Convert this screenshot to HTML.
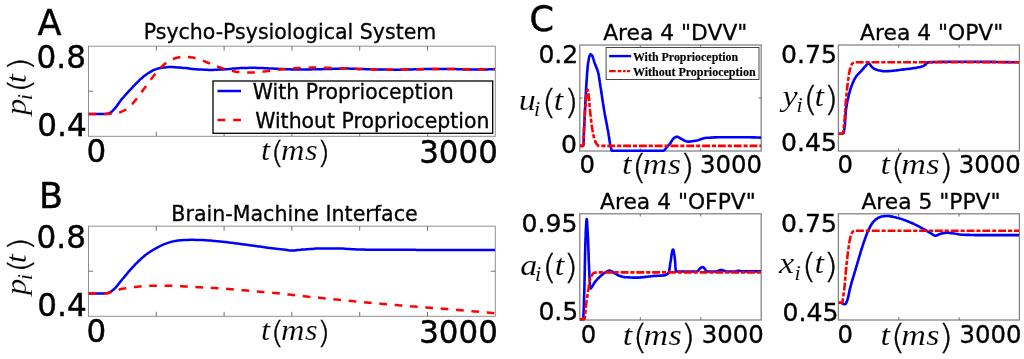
<!DOCTYPE html>
<html><head><meta charset="utf-8"><title>Figure</title>
<style>html,body{margin:0;padding:0;background:#fff}svg{display:block}text{fill:#000}</style>
</head><body>
<svg width="1024" height="359" viewBox="0 0 1024 359">
<rect width="1024" height="359" fill="#fff"/>
<rect x="88.5" y="46.2" width="406.8" height="90.1" fill="#fff" stroke="#909090" stroke-width="1.0"/>
<path d="M156.3,136.3v-4.5M156.3,46.2v4.5M224.1,136.3v-4.5M224.1,46.2v4.5M291.9,136.3v-4.5M291.9,46.2v4.5M359.7,136.3v-4.5M359.7,46.2v4.5M427.5,136.3v-4.5M427.5,46.2v4.5M88.5,91.2h4.5" stroke="#505050" stroke-width="0.8" fill="none"/>
<clipPath id="cA"><rect x="88.5" y="46.2" width="406.8" height="90.1"/></clipPath>
<g clip-path="url(#cA)" fill="none" stroke-width="2.5" stroke-linejoin="round">
<path d="M88.5,113.9 L90.0,113.9 L91.5,113.9 L93.1,113.9 L94.6,113.9 L96.1,113.9 L97.6,113.9 L99.1,113.9 L100.6,113.9 L102.1,113.9 L103.6,113.9 L105.1,113.9 L106.6,113.8 L108.1,113.5 L109.5,113.1 L110.8,112.5 L112.0,111.5 L113.1,110.3 L114.1,109.2 L115.1,108.1 L116.1,106.9 L117.0,105.7 L117.8,104.5 L118.7,103.2 L119.6,102.0 L120.5,100.8 L121.4,99.6 L122.4,98.4 L123.4,97.3 L124.4,96.1 L125.4,95.0 L126.4,93.9 L127.4,92.8 L128.4,91.7 L129.4,90.6 L130.5,89.5 L131.5,88.4 L132.5,87.3 L133.5,86.2 L134.6,85.1 L135.6,84.0 L136.7,82.9 L137.8,81.8 L138.8,80.8 L139.9,79.7 L141.0,78.7 L142.2,77.7 L143.3,76.8 L144.5,75.8 L145.7,74.9 L146.9,74.0 L148.2,73.2 L149.5,72.4 L150.8,71.6 L152.1,70.9 L153.4,70.2 L154.8,69.6 L156.2,69.1 L157.7,68.6 L159.1,68.2 L160.6,67.9 L162.1,67.7 L163.6,67.5 L165.1,67.4 L166.6,67.2 L168.1,67.1 L169.6,67.1 L171.1,67.1 L172.6,67.1 L174.1,67.2 L175.6,67.3 L177.1,67.4 L178.6,67.5 L180.1,67.6 L181.6,67.7 L183.2,67.9 L184.7,68.0 L186.2,68.1 L187.7,68.3 L189.1,68.5 L190.6,68.7 L192.1,68.9 L193.6,69.0 L195.1,69.2 L196.6,69.3 L198.1,69.4 L199.7,69.5 L201.2,69.6 L202.7,69.6 L204.2,69.7 L205.7,69.8 L207.2,69.8 L208.7,69.9 L210.2,69.9 L211.7,69.9 L213.2,69.9 L214.7,69.8 L216.2,69.8 L217.7,69.7 L219.2,69.6 L220.7,69.6 L222.3,69.5 L223.8,69.4 L225.3,69.3 L226.8,69.2 L228.3,69.1 L229.8,68.9 L231.3,68.8 L232.8,68.6 L234.3,68.5 L235.8,68.4 L237.3,68.3 L238.8,68.2 L240.3,68.1 L241.8,68.1 L243.3,68.0 L244.8,68.0 L246.3,67.9 L247.8,67.9 L249.3,67.8 L250.8,67.8 L252.3,67.8 L253.9,67.8 L255.4,67.8 L256.9,67.9 L258.4,67.9 L259.9,68.0 L261.4,68.0 L262.9,68.1 L264.4,68.2 L265.9,68.2 L267.4,68.3 L268.9,68.4 L270.4,68.4 L271.9,68.5 L273.4,68.6 L274.9,68.7 L276.5,68.8 L278.0,68.8 L279.5,68.9 L281.0,69.0 L282.5,69.1 L284.0,69.1 L285.5,69.2 L287.0,69.2 L288.5,69.3 L290.0,69.3 L291.5,69.4 L293.0,69.4 L294.5,69.4 L296.0,69.5 L297.5,69.5 L299.1,69.5 L300.6,69.5 L302.1,69.5 L303.6,69.5 L305.1,69.5 L306.6,69.5 L308.1,69.4 L309.6,69.4 L311.1,69.4 L312.6,69.3 L314.1,69.3 L315.6,69.3 L317.1,69.3 L318.6,69.2 L320.2,69.2 L321.7,69.2 L323.2,69.1 L324.7,69.1 L326.2,69.0 L327.7,69.0 L329.2,68.9 L330.7,68.9 L332.2,68.9 L333.7,68.8 L335.2,68.8 L336.7,68.7 L338.2,68.7 L339.7,68.7 L341.3,68.6 L342.8,68.6 L344.3,68.6 L345.8,68.6 L347.3,68.6 L348.8,68.6 L350.3,68.7 L351.8,68.7 L353.3,68.7 L354.8,68.8 L356.3,68.8 L357.8,68.9 L359.3,69.0 L360.8,69.0 L362.4,69.1 L363.9,69.1 L365.4,69.2 L366.9,69.2 L368.4,69.3 L369.9,69.3 L371.4,69.3 L372.9,69.4 L374.4,69.4 L375.9,69.4 L377.4,69.5 L378.9,69.5 L380.4,69.5 L381.9,69.6 L383.5,69.6 L385.0,69.6 L386.5,69.6 L388.0,69.7 L389.5,69.7 L391.0,69.7 L392.5,69.7 L394.0,69.7 L395.5,69.7 L397.0,69.7 L398.5,69.7 L400.0,69.7 L401.5,69.6 L403.1,69.6 L404.6,69.6 L406.1,69.5 L407.6,69.5 L409.1,69.5 L410.6,69.4 L412.1,69.4 L413.6,69.3 L415.1,69.3 L416.6,69.3 L418.1,69.2 L419.6,69.2 L421.1,69.2 L422.6,69.2 L424.2,69.1 L425.7,69.1 L427.2,69.1 L428.7,69.1 L430.2,69.0 L431.7,69.0 L433.2,69.0 L434.7,69.0 L436.2,69.0 L437.7,68.9 L439.2,68.9 L440.7,68.9 L442.2,68.9 L443.8,68.9 L445.3,68.9 L446.8,68.9 L448.3,68.9 L449.8,69.0 L451.3,69.0 L452.8,69.0 L454.3,69.1 L455.8,69.1 L457.3,69.2 L458.8,69.2 L460.3,69.3 L461.8,69.3 L463.3,69.4 L464.9,69.4 L466.4,69.5 L467.9,69.5 L469.4,69.5 L470.9,69.5 L472.4,69.5 L473.9,69.5 L475.4,69.5 L476.9,69.5 L478.4,69.5 L479.9,69.5 L481.4,69.5 L482.9,69.4 L484.4,69.4 L486.0,69.4 L487.5,69.4 L489.0,69.3 L490.5,69.3 L492.0,69.3 L493.5,69.2 L495.0,69.2" stroke="#0000ff"/>
<path d="M88.5,113.9 L90.0,113.9 L91.5,113.9 L93.0,113.9 L94.5,113.9 L96.0,113.9 L97.6,113.9 L99.1,113.9 L100.6,113.9 L102.1,113.9 L103.6,113.9 L105.1,113.9 L106.6,113.9 L108.1,113.9 L109.6,113.8 L111.1,113.7 L112.6,113.6 L114.1,113.4 L115.6,113.2 L117.1,112.9 L118.6,112.6 L120.1,112.2 L121.5,111.7 L122.8,111.2 L124.1,110.5 L125.4,109.7 L126.7,108.8 L127.9,107.9 L129.1,106.8 L130.2,105.8 L131.3,104.8 L132.4,103.8 L133.4,102.7 L134.4,101.5 L135.3,100.4 L136.2,99.2 L137.2,97.9 L138.1,96.7 L139.0,95.5 L139.9,94.3 L140.8,93.1 L141.7,91.9 L142.6,90.7 L143.5,89.5 L144.4,88.3 L145.3,87.1 L146.2,85.8 L147.1,84.6 L148.0,83.4 L148.9,82.2 L149.8,81.0 L150.7,79.8 L151.6,78.6 L152.5,77.4 L153.4,76.1 L154.4,75.0 L155.3,73.8 L156.2,72.6 L157.2,71.5 L158.2,70.4 L159.2,69.3 L160.3,68.2 L161.4,67.1 L162.5,66.0 L163.6,65.0 L164.7,64.0 L165.9,63.1 L167.1,62.3 L168.4,61.5 L169.7,60.6 L171.1,59.9 L172.4,59.2 L173.8,58.7 L175.2,58.3 L176.7,57.9 L178.1,57.5 L179.6,57.2 L181.2,57.0 L182.7,56.8 L184.2,56.7 L185.7,56.7 L187.2,56.8 L188.7,57.0 L190.2,57.2 L191.7,57.4 L193.2,57.6 L194.6,57.9 L196.1,58.2 L197.5,58.6 L198.9,59.2 L200.4,59.7 L201.8,60.3 L203.2,60.9 L204.6,61.4 L206.0,62.0 L207.4,62.5 L208.8,63.1 L210.2,63.7 L211.6,64.3 L213.0,64.8 L214.4,65.4 L215.8,65.9 L217.2,66.4 L218.6,67.0 L220.0,67.5 L221.5,68.0 L222.9,68.4 L224.3,68.9 L225.8,69.3 L227.2,69.7 L228.7,70.1 L230.2,70.4 L231.6,70.8 L233.1,71.1 L234.6,71.4 L236.1,71.7 L237.6,71.9 L239.1,72.0 L240.6,72.1 L242.1,72.3 L243.6,72.4 L245.1,72.5 L246.6,72.5 L248.1,72.6 L249.6,72.6 L251.1,72.6 L252.6,72.5 L254.1,72.4 L255.6,72.3 L257.1,72.2 L258.6,72.0 L260.1,71.9 L261.6,71.7 L263.1,71.6 L264.6,71.4 L266.1,71.3 L267.6,71.1 L269.1,70.9 L270.6,70.7 L272.1,70.5 L273.6,70.3 L275.1,70.1 L276.6,69.9 L278.1,69.8 L279.6,69.6 L281.1,69.5 L282.6,69.3 L284.1,69.2 L285.6,69.0 L287.1,68.9 L288.6,68.7 L290.1,68.6 L291.6,68.5 L293.1,68.3 L294.6,68.2 L296.1,68.2 L297.6,68.1 L299.1,68.0 L300.6,68.0 L302.1,67.9 L303.6,67.8 L305.1,67.8 L306.6,67.7 L308.1,67.7 L309.7,67.7 L311.2,67.6 L312.7,67.6 L314.2,67.6 L315.7,67.6 L317.2,67.6 L318.7,67.6 L320.2,67.6 L321.7,67.7 L323.2,67.7 L324.7,67.7 L326.2,67.8 L327.7,67.8 L329.2,67.8 L330.7,67.9 L332.3,67.9 L333.8,68.0 L335.3,68.0 L336.8,68.1 L338.3,68.1 L339.8,68.2 L341.3,68.2 L342.8,68.3 L344.3,68.3 L345.8,68.4 L347.3,68.5 L348.8,68.5 L350.3,68.6 L351.8,68.7 L353.3,68.8 L354.8,68.8 L356.4,68.9 L357.9,68.9 L359.4,69.0 L360.9,69.0 L362.4,69.1 L363.9,69.1 L365.4,69.2 L366.9,69.2 L368.4,69.3 L369.9,69.3 L371.4,69.4 L372.9,69.4 L374.4,69.4 L375.9,69.5 L377.4,69.5 L379.0,69.5 L380.5,69.6 L382.0,69.6 L383.5,69.6 L385.0,69.6 L386.5,69.6 L388.0,69.6 L389.5,69.6 L391.0,69.6 L392.5,69.6 L394.0,69.5 L395.5,69.5 L397.0,69.5 L398.5,69.5 L400.0,69.4 L401.6,69.4 L403.1,69.4 L404.6,69.4 L406.1,69.4 L407.6,69.3 L409.1,69.3 L410.6,69.3 L412.1,69.3 L413.6,69.3 L415.1,69.2 L416.6,69.2 L418.1,69.2 L419.6,69.2 L421.1,69.2 L422.7,69.1 L424.2,69.1 L425.7,69.1 L427.2,69.1 L428.7,69.1 L430.2,69.1 L431.7,69.0 L433.2,69.0 L434.7,69.0 L436.2,69.0 L437.7,69.0 L439.2,69.0 L440.7,69.0 L442.2,69.0 L443.8,69.0 L445.3,69.0 L446.8,69.0 L448.3,69.0 L449.8,69.0 L451.3,69.1 L452.8,69.1 L454.3,69.1 L455.8,69.1 L457.3,69.1 L458.8,69.1 L460.3,69.2 L461.8,69.2 L463.3,69.2 L464.9,69.2 L466.4,69.2 L467.9,69.2 L469.4,69.2 L470.9,69.2 L472.4,69.2 L473.9,69.2 L475.4,69.2 L476.9,69.2 L478.4,69.2 L479.9,69.2 L481.4,69.2 L482.9,69.2 L484.4,69.2 L486.0,69.2 L487.5,69.2 L489.0,69.1 L490.5,69.1 L492.0,69.1 L493.5,69.1 L495.0,69.1" stroke="#ff0000" stroke-dasharray="7.7,7.7"/>
</g>
<text x="37.6" y="34.5" font-size="35" font-family="'DejaVu Sans','Liberation Sans',sans-serif" text-anchor="start" stroke="#000" stroke-width="0.45">A</text>
<text x="290" y="38.6" font-size="20.5" font-family="'DejaVu Sans','Liberation Sans',sans-serif" text-anchor="middle" stroke="#000" stroke-width="0.3">Psycho-Psysiological System</text>
<text x="36.5" y="68.3" font-size="32" font-family="'DejaVu Sans','Liberation Sans',sans-serif" text-anchor="start" stroke="#000" stroke-width="0.45" textLength="49.4" lengthAdjust="spacingAndGlyphs">0.8</text>
<text x="37.3" y="136.4" font-size="32" font-family="'DejaVu Sans','Liberation Sans',sans-serif" text-anchor="start" stroke="#000" stroke-width="0.45" textLength="49.4" lengthAdjust="spacingAndGlyphs">0.4</text>
<text x="86.5" y="162.1" font-size="32" font-family="'DejaVu Sans','Liberation Sans',sans-serif" text-anchor="start" stroke="#000" stroke-width="0.45" textLength="19.7" lengthAdjust="spacingAndGlyphs">0</text>
<text x="497.8" y="162.8" font-size="32" font-family="'DejaVu Sans','Liberation Sans',sans-serif" text-anchor="end" stroke="#000" stroke-width="0.45" textLength="78.6" lengthAdjust="spacingAndGlyphs">3000</text>
<text transform="translate(260.6,159.6) scale(1.12,1)" font-family="'Liberation Serif','DejaVu Serif',serif" font-size="29"><tspan x="0.4" y="0" font-style="italic" stroke="#fff" stroke-width="0.15">t</tspan><tspan x="9.1" y="2.9000000000000004" font-family="'DejaVu Sans Light','DejaVu Sans',sans-serif" font-weight="200" stroke="#000" stroke-width="0.35" font-size="30.5">(</tspan><tspan x="18.3" y="0" font-style="italic" stroke="#fff" stroke-width="0.15">m</tspan><tspan x="39.7" y="0" font-style="italic" stroke="#fff" stroke-width="0.15">s</tspan><tspan x="50.3" y="2.9000000000000004" font-family="'DejaVu Sans Light','DejaVu Sans',sans-serif" font-weight="200" stroke="#000" stroke-width="0.35" font-size="30.5">)</tspan></text>
<text transform="translate(26.4,115) rotate(-90) scale(1.12,1)" font-family="'Liberation Serif','DejaVu Serif',serif" font-size="29"><tspan x="0.0" y="0" font-style="italic" stroke="#fff" stroke-width="0.15">p</tspan><tspan x="13.2" y="5.800000000000001" font-style="italic" stroke="#fff" stroke-width="0.15" font-size="20.3">i</tspan><tspan x="20.2" y="4.0600000000000005" font-family="'DejaVu Sans Light','DejaVu Sans',sans-serif" font-weight="200" stroke="#000" stroke-width="0.35" font-size="31.0">(</tspan><tspan x="28.4" y="0" font-style="italic" stroke="#fff" stroke-width="0.15">t</tspan><tspan x="39.6" y="4.0600000000000005" font-family="'DejaVu Sans Light','DejaVu Sans',sans-serif" font-weight="200" stroke="#000" stroke-width="0.35" font-size="31.0">)</tspan></text>
<rect x="213" y="81" width="279.7" height="52.3" fill="#fff" stroke="#000" stroke-width="1.3"/>
<path d="M217.5,91h23.5" stroke="#0000ff" stroke-width="2.5"/>
<path d="M217.5,120h23.5" stroke="#ff0000" stroke-width="2.5" stroke-dasharray="7.8,7.8"/>
<text x="252.8" y="98.5" font-size="20.45" font-family="'DejaVu Sans','Liberation Sans',sans-serif" text-anchor="start" stroke="#000" stroke-width="0.3">With Proprioception</text>
<text x="255.2" y="128.2" font-size="20.45" font-family="'DejaVu Sans','Liberation Sans',sans-serif" text-anchor="start" stroke="#000" stroke-width="0.3">Without Proprioception</text>
<rect x="88.5" y="226.2" width="406.8" height="90.1" fill="#fff" stroke="#909090" stroke-width="1.0"/>
<path d="M156.3,316.3v-4.5M156.3,226.2v4.5M224.1,316.3v-4.5M224.1,226.2v4.5M291.9,316.3v-4.5M291.9,226.2v4.5M359.7,316.3v-4.5M359.7,226.2v4.5M427.5,316.3v-4.5M427.5,226.2v4.5M88.5,271.2h4.5M495.3,271.2h-4.5" stroke="#505050" stroke-width="0.8" fill="none"/>
<clipPath id="cB"><rect x="88.5" y="226.2" width="406.8" height="90.1"/></clipPath>
<g clip-path="url(#cB)" fill="none" stroke-width="2.5" stroke-linejoin="round">
<path d="M88.5,293.6 L90.0,293.6 L91.5,293.6 L93.0,293.6 L94.5,293.6 L96.0,293.6 L97.6,293.6 L99.1,293.6 L100.6,293.6 L102.1,293.6 L103.6,293.5 L105.2,293.3 L106.7,293.2 L108.1,293.0 L109.4,292.5 L110.8,291.7 L112.0,290.7 L113.2,289.8 L114.3,288.8 L115.4,287.8 L116.4,286.7 L117.4,285.5 L118.3,284.3 L119.3,283.1 L120.2,281.9 L121.1,280.7 L122.1,279.5 L123.1,278.4 L124.1,277.2 L125.0,276.1 L126.0,274.9 L127.0,273.7 L127.9,272.6 L128.9,271.4 L129.9,270.3 L130.9,269.2 L131.9,268.1 L132.9,266.9 L134.0,265.8 L135.0,264.7 L136.0,263.6 L137.1,262.6 L138.2,261.5 L139.3,260.5 L140.4,259.5 L141.5,258.4 L142.6,257.4 L143.8,256.5 L144.9,255.5 L146.1,254.6 L147.3,253.7 L148.6,252.8 L149.8,252.0 L151.1,251.1 L152.4,250.4 L153.7,249.6 L155.0,248.8 L156.3,248.1 L157.6,247.4 L159.0,246.7 L160.3,246.0 L161.7,245.3 L163.1,244.7 L164.4,244.2 L165.9,243.6 L167.3,243.1 L168.7,242.6 L170.2,242.1 L171.6,241.8 L173.1,241.4 L174.5,241.1 L176.0,240.9 L177.5,240.6 L179.0,240.4 L180.5,240.3 L182.0,240.2 L183.5,240.1 L185.0,240.0 L186.5,239.9 L188.1,239.9 L189.6,239.8 L191.1,239.8 L192.6,239.8 L194.1,239.8 L195.6,239.9 L197.1,239.9 L198.6,239.9 L200.1,240.0 L201.6,240.1 L203.1,240.1 L204.6,240.2 L206.1,240.3 L207.7,240.4 L209.2,240.5 L210.7,240.6 L212.2,240.7 L213.7,240.9 L215.2,241.0 L216.7,241.2 L218.2,241.3 L219.7,241.4 L221.2,241.6 L222.7,241.7 L224.2,241.9 L225.7,242.1 L227.2,242.3 L228.7,242.5 L230.2,242.7 L231.7,242.8 L233.2,243.0 L234.6,243.2 L236.1,243.4 L237.6,243.6 L239.1,243.8 L240.6,244.0 L242.1,244.2 L243.6,244.4 L245.1,244.6 L246.6,244.8 L248.1,245.0 L249.6,245.2 L251.1,245.4 L252.6,245.6 L254.1,245.8 L255.6,246.0 L257.1,246.2 L258.6,246.4 L260.1,246.6 L261.6,246.8 L263.0,247.1 L264.5,247.3 L266.0,247.5 L267.5,247.7 L269.0,247.9 L270.5,248.0 L272.0,248.2 L273.5,248.4 L275.0,248.6 L276.5,248.7 L278.0,248.9 L279.5,249.1 L281.0,249.2 L282.5,249.4 L284.0,249.6 L285.5,249.8 L287.0,250.0 L288.5,250.3 L290.0,250.4 L291.5,250.5 L293.0,250.5 L294.5,250.4 L296.0,250.2 L297.5,250.0 L299.0,249.9 L300.5,249.8 L302.0,249.6 L303.5,249.5 L305.0,249.4 L306.5,249.3 L308.0,249.2 L309.5,249.1 L311.0,249.0 L312.5,248.9 L314.1,248.7 L315.6,248.6 L317.1,248.5 L318.6,248.5 L320.1,248.4 L321.6,248.4 L323.1,248.4 L324.6,248.4 L326.1,248.4 L327.6,248.4 L329.1,248.4 L330.6,248.4 L332.1,248.4 L333.7,248.4 L335.2,248.4 L336.7,248.4 L338.2,248.4 L339.7,248.5 L341.2,248.6 L342.7,248.6 L344.2,248.7 L345.7,248.8 L347.2,248.9 L348.7,249.0 L350.2,249.1 L351.7,249.2 L353.2,249.2 L354.7,249.3 L356.3,249.4 L357.8,249.4 L359.3,249.5 L360.8,249.5 L362.3,249.6 L363.8,249.6 L365.3,249.7 L366.8,249.7 L368.3,249.8 L369.8,249.8 L371.3,249.8 L372.8,249.8 L374.3,249.8 L375.9,249.8 L377.4,249.8 L378.9,249.8 L380.4,249.8 L381.9,249.8 L383.4,249.8 L384.9,249.8 L386.4,249.8 L387.9,249.8 L389.4,249.8 L390.9,249.8 L392.4,249.8 L394.0,249.8 L395.5,249.8 L397.0,249.8 L398.5,249.8 L400.0,249.8 L401.5,249.8 L403.0,249.8 L404.5,249.8 L406.0,249.8 L407.5,249.8 L409.0,249.8 L410.5,249.8 L412.0,249.8 L413.6,249.8 L415.1,249.8 L416.6,249.9 L418.1,249.9 L419.6,249.9 L421.1,249.9 L422.6,249.9 L424.1,249.9 L425.6,249.9 L427.1,250.0 L428.6,250.0 L430.1,250.0 L431.7,250.0 L433.2,250.0 L434.7,250.0 L436.2,250.0 L437.7,250.1 L439.2,250.1 L440.7,250.1 L442.2,250.1 L443.7,250.1 L445.2,250.1 L446.7,250.1 L448.2,250.1 L449.8,250.1 L451.3,250.1 L452.8,250.1 L454.3,250.1 L455.8,250.1 L457.3,250.1 L458.8,250.1 L460.3,250.1 L461.8,250.1 L463.3,250.1 L464.8,250.1 L466.3,250.1 L467.9,250.1 L469.4,250.1 L470.9,250.1 L472.4,250.1 L473.9,250.1 L475.4,250.1 L476.9,250.1 L478.4,250.1 L479.9,250.1 L481.4,250.1 L482.9,250.1 L484.4,250.1 L486.0,250.1 L487.5,250.1 L489.0,250.1 L490.5,250.1 L492.0,250.1 L493.5,250.1 L495.0,250.1" stroke="#0000ff"/>
<path d="M88.5,293.6 L90.0,293.6 L91.5,293.6 L93.0,293.6 L94.5,293.6 L96.1,293.6 L97.6,293.6 L99.1,293.6 L100.6,293.6 L102.1,293.6 L103.6,293.5 L105.1,293.4 L106.6,293.2 L108.1,292.9 L109.5,292.6 L111.0,292.3 L112.5,291.9 L113.9,291.5 L115.3,290.9 L116.7,290.4 L118.2,289.9 L119.6,289.4 L121.0,289.0 L122.5,288.7 L124.0,288.4 L125.5,288.2 L127.0,287.9 L128.4,287.7 L130.0,287.5 L131.5,287.3 L133.0,287.2 L134.5,287.0 L136.0,286.9 L137.5,286.7 L139.0,286.6 L140.5,286.4 L142.0,286.3 L143.5,286.2 L145.0,286.0 L146.5,285.9 L148.0,285.8 L149.5,285.8 L151.0,285.7 L152.5,285.7 L154.0,285.7 L155.5,285.7 L157.0,285.7 L158.5,285.7 L160.0,285.7 L161.5,285.7 L163.1,285.7 L164.6,285.7 L166.1,285.7 L167.6,285.7 L169.1,285.7 L170.6,285.7 L172.1,285.7 L173.6,285.8 L175.1,285.9 L176.6,285.9 L178.1,286.0 L179.6,286.1 L181.1,286.2 L182.6,286.3 L184.1,286.4 L185.6,286.5 L187.1,286.6 L188.7,286.7 L190.2,286.8 L191.7,286.9 L193.2,287.0 L194.7,287.1 L196.2,287.1 L197.7,287.2 L199.2,287.3 L200.7,287.3 L202.2,287.4 L203.7,287.5 L205.2,287.6 L206.7,287.6 L208.2,287.7 L209.7,287.8 L211.2,287.9 L212.7,287.9 L214.2,288.0 L215.8,288.1 L217.3,288.2 L218.8,288.3 L220.3,288.4 L221.8,288.5 L223.3,288.6 L224.8,288.7 L226.3,288.8 L227.8,289.0 L229.3,289.1 L230.8,289.2 L232.3,289.3 L233.8,289.4 L235.3,289.5 L236.8,289.7 L238.3,289.8 L239.8,289.9 L241.3,290.0 L242.8,290.2 L244.3,290.3 L245.8,290.5 L247.3,290.6 L248.8,290.7 L250.3,290.9 L251.8,291.0 L253.3,291.2 L254.8,291.3 L256.3,291.4 L257.8,291.6 L259.3,291.7 L260.8,291.8 L262.3,291.9 L263.8,292.1 L265.3,292.2 L266.8,292.3 L268.3,292.4 L269.8,292.5 L271.3,292.7 L272.8,292.8 L274.3,292.9 L275.8,293.0 L277.4,293.2 L278.9,293.3 L280.4,293.5 L281.8,293.6 L283.3,293.8 L284.8,294.0 L286.3,294.2 L287.8,294.4 L289.3,294.6 L290.8,294.8 L292.3,294.9 L293.8,295.1 L295.3,295.3 L296.8,295.5 L298.3,295.6 L299.8,295.8 L301.3,295.9 L302.8,296.1 L304.3,296.2 L305.8,296.4 L307.3,296.6 L308.8,296.7 L310.3,296.9 L311.8,297.0 L313.3,297.2 L314.8,297.3 L316.3,297.4 L317.8,297.6 L319.3,297.7 L320.8,297.9 L322.3,298.1 L323.8,298.2 L325.3,298.4 L326.8,298.5 L328.3,298.7 L329.8,298.8 L331.3,299.0 L332.8,299.1 L334.3,299.3 L335.8,299.4 L337.3,299.6 L338.8,299.7 L340.3,299.9 L341.8,300.1 L343.3,300.2 L344.8,300.4 L346.3,300.5 L347.8,300.7 L349.3,300.8 L350.8,301.0 L352.3,301.1 L353.8,301.3 L355.3,301.4 L356.8,301.6 L358.3,301.7 L359.8,301.8 L361.3,302.0 L362.8,302.1 L364.3,302.3 L365.8,302.4 L367.3,302.5 L368.8,302.7 L370.3,302.8 L371.8,302.9 L373.3,303.1 L374.8,303.2 L376.3,303.3 L377.8,303.5 L379.3,303.6 L380.8,303.7 L382.3,303.9 L383.8,304.0 L385.3,304.1 L386.8,304.3 L388.3,304.4 L389.8,304.5 L391.3,304.6 L392.8,304.8 L394.3,304.9 L395.8,305.0 L397.3,305.1 L398.8,305.3 L400.4,305.4 L401.9,305.5 L403.4,305.6 L404.9,305.8 L406.4,305.9 L407.9,306.0 L409.4,306.1 L410.9,306.3 L412.4,306.4 L413.9,306.5 L415.4,306.6 L416.9,306.7 L418.4,306.8 L419.9,307.0 L421.4,307.1 L422.9,307.2 L424.4,307.3 L425.9,307.4 L427.4,307.5 L428.9,307.7 L430.4,307.8 L431.9,307.9 L433.4,308.0 L434.9,308.1 L436.4,308.2 L437.9,308.4 L439.4,308.5 L440.9,308.6 L442.4,308.7 L443.9,308.8 L445.4,309.0 L446.9,309.1 L448.4,309.2 L449.9,309.3 L451.4,309.5 L452.9,309.6 L454.4,309.7 L456.0,309.8 L457.5,310.0 L459.0,310.1 L460.5,310.2 L462.0,310.3 L463.5,310.5 L465.0,310.6 L466.5,310.7 L468.0,310.8 L469.5,311.0 L471.0,311.1 L472.5,311.2 L474.0,311.4 L475.5,311.5 L477.0,311.6 L478.5,311.7 L480.0,311.9 L481.5,312.0 L483.0,312.1 L484.5,312.3 L486.0,312.4 L487.5,312.5 L489.0,312.7 L490.5,312.8 L492.0,312.9 L493.5,313.1 L495.0,313.2" stroke="#ff0000" stroke-dasharray="7.7,7.7"/>
</g>
<text x="39.1" y="208.2" font-size="35" font-family="'DejaVu Sans','Liberation Sans',sans-serif" text-anchor="start" stroke="#000" stroke-width="0.45">B</text>
<text x="294.5" y="220.7" font-size="20.6" font-family="'DejaVu Sans','Liberation Sans',sans-serif" text-anchor="middle" stroke="#000" stroke-width="0.3">Brain-Machine Interface</text>
<text x="36.5" y="248.3" font-size="32" font-family="'DejaVu Sans','Liberation Sans',sans-serif" text-anchor="start" stroke="#000" stroke-width="0.45" textLength="49.4" lengthAdjust="spacingAndGlyphs">0.8</text>
<text x="37.3" y="316.4" font-size="32" font-family="'DejaVu Sans','Liberation Sans',sans-serif" text-anchor="start" stroke="#000" stroke-width="0.45" textLength="49.4" lengthAdjust="spacingAndGlyphs">0.4</text>
<text x="86.5" y="342.1" font-size="32" font-family="'DejaVu Sans','Liberation Sans',sans-serif" text-anchor="start" stroke="#000" stroke-width="0.45" textLength="19.7" lengthAdjust="spacingAndGlyphs">0</text>
<text x="497.8" y="342.8" font-size="32" font-family="'DejaVu Sans','Liberation Sans',sans-serif" text-anchor="end" stroke="#000" stroke-width="0.45" textLength="78.6" lengthAdjust="spacingAndGlyphs">3000</text>
<text transform="translate(260.6,339.6) scale(1.12,1)" font-family="'Liberation Serif','DejaVu Serif',serif" font-size="29"><tspan x="0.4" y="0" font-style="italic" stroke="#fff" stroke-width="0.15">t</tspan><tspan x="9.1" y="2.9000000000000004" font-family="'DejaVu Sans Light','DejaVu Sans',sans-serif" font-weight="200" stroke="#000" stroke-width="0.35" font-size="30.5">(</tspan><tspan x="18.3" y="0" font-style="italic" stroke="#fff" stroke-width="0.15">m</tspan><tspan x="39.7" y="0" font-style="italic" stroke="#fff" stroke-width="0.15">s</tspan><tspan x="50.3" y="2.9000000000000004" font-family="'DejaVu Sans Light','DejaVu Sans',sans-serif" font-weight="200" stroke="#000" stroke-width="0.35" font-size="30.5">)</tspan></text>
<text transform="translate(26.4,295) rotate(-90) scale(1.12,1)" font-family="'Liberation Serif','DejaVu Serif',serif" font-size="29"><tspan x="0.0" y="0" font-style="italic" stroke="#fff" stroke-width="0.15">p</tspan><tspan x="13.2" y="5.800000000000001" font-style="italic" stroke="#fff" stroke-width="0.15" font-size="20.3">i</tspan><tspan x="20.2" y="4.0600000000000005" font-family="'DejaVu Sans Light','DejaVu Sans',sans-serif" font-weight="200" stroke="#000" stroke-width="0.35" font-size="31.0">(</tspan><tspan x="28.4" y="0" font-style="italic" stroke="#fff" stroke-width="0.15">t</tspan><tspan x="39.6" y="4.0600000000000005" font-family="'DejaVu Sans Light','DejaVu Sans',sans-serif" font-weight="200" stroke="#000" stroke-width="0.35" font-size="31.0">)</tspan></text>
<text x="529.5" y="31" font-size="35" font-family="'DejaVu Sans','Liberation Sans',sans-serif" text-anchor="start" stroke="#000" stroke-width="0.45">C</text>
<rect x="579.8" y="45.0" width="181.4" height="106.0" fill="#fff" stroke="#858585" stroke-width="1.3"/>
<path d="M640.3,151v-2.8M640.3,45.0v2.8M700.7,151v-2.8M700.7,45.0v2.8M579.8,98.0h2.8M761.2,98.0h-2.8" stroke="#505050" stroke-width="0.8" fill="none"/>
<clipPath id="cc1"><rect x="579.8" y="45.0" width="181.4" height="107.2"/></clipPath>
<g clip-path="url(#cc1)" fill="none" stroke-width="2.6" stroke-linejoin="round">
<path d="M580.0,145.9 L581.9,145.9 L583.0,145.9 L583.2,145.6 L583.4,144.9 L583.5,143.7 L583.6,142.2 L583.7,140.4 L583.7,138.5 L583.8,136.5 L583.8,134.5 L583.9,132.6 L584.0,130.9 L584.0,129.3 L584.1,127.8 L584.2,126.3 L584.3,124.8 L584.4,123.3 L584.4,121.8 L584.5,120.3 L584.6,118.8 L584.6,117.3 L584.7,115.7 L584.8,114.2 L584.9,112.7 L584.9,111.2 L585.0,109.7 L585.1,108.2 L585.2,106.7 L585.2,105.2 L585.3,103.7 L585.4,102.2 L585.5,100.7 L585.5,99.2 L585.6,97.7 L585.7,96.2 L585.8,94.6 L585.9,93.1 L585.9,91.6 L586.0,90.1 L586.1,88.6 L586.2,87.1 L586.3,85.6 L586.4,84.1 L586.5,82.6 L586.6,81.1 L586.7,79.6 L586.8,78.1 L586.9,76.6 L587.0,75.1 L587.1,73.6 L587.2,72.0 L587.4,70.5 L587.5,69.0 L587.6,67.5 L587.8,66.0 L587.9,64.5 L588.1,63.0 L588.4,61.5 L588.6,60.0 L588.9,58.5 L589.3,56.6 L589.9,55.0 L590.6,54.2 L591.7,55.0 L592.5,56.3 L593.0,57.6 L593.4,59.1 L593.9,60.6 L594.3,62.1 L594.8,63.5 L595.4,64.9 L595.9,66.3 L596.5,67.7 L597.1,69.2 L597.6,70.6 L598.0,72.0 L598.4,73.5 L598.7,74.9 L598.9,76.4 L599.2,77.9 L599.4,79.4 L599.6,80.9 L599.8,82.4 L600.1,83.9 L600.3,85.4 L600.5,86.9 L600.8,88.4 L601.0,89.9 L601.2,91.3 L601.4,92.8 L601.7,94.3 L601.9,95.8 L602.1,97.3 L602.3,98.8 L602.6,100.3 L602.8,101.8 L603.0,103.3 L603.2,104.8 L603.5,106.3 L603.7,107.8 L604.0,109.2 L604.2,110.7 L604.5,112.2 L604.7,113.7 L605.0,115.2 L605.3,116.7 L605.6,118.2 L605.8,119.6 L606.1,121.1 L606.4,122.6 L606.7,124.1 L607.0,125.6 L607.3,127.1 L607.5,128.5 L607.8,130.0 L608.1,131.5 L608.4,133.0 L608.6,134.5 L608.8,136.0 L609.1,137.5 L609.3,139.0 L609.5,140.5 L609.8,142.0 L610.0,143.5 L610.3,145.0 L610.6,146.4 L611.0,147.9 L611.4,149.3 L611.9,150.8 L613.3,150.8 L614.8,150.8 L616.4,150.8 L617.9,150.8 L619.4,150.8 L620.9,150.8 L622.4,150.8 L623.9,150.8 L625.4,150.8 L626.9,150.8 L628.4,150.8 L629.9,150.8 L631.4,150.8 L633.0,150.8 L634.5,150.8 L636.0,150.8 L637.5,150.8 L639.0,150.8 L640.5,150.8 L642.0,150.8 L643.5,150.8 L645.0,150.8 L646.6,150.8 L648.1,150.8 L649.6,150.8 L651.1,150.8 L652.6,150.8 L654.2,150.8 L655.7,150.8 L657.2,150.8 L658.7,150.8 L660.2,150.8 L661.7,150.8 L663.1,150.8 L664.4,150.1 L665.4,149.0 L666.4,147.7 L667.4,146.6 L668.4,145.4 L669.4,144.3 L670.4,143.2 L671.2,141.8 L672.0,140.5 L672.9,139.2 L673.8,138.1 L675.1,137.3 L676.5,136.7 L677.9,136.9 L679.2,137.6 L680.6,138.5 L681.9,139.2 L683.3,140.0 L684.7,140.7 L686.1,141.3 L687.5,141.6 L689.0,141.6 L690.5,141.5 L692.0,141.3 L693.5,141.1 L695.0,140.8 L696.5,140.6 L698.0,140.3 L699.4,139.8 L700.9,139.3 L702.3,138.8 L703.7,138.3 L705.2,138.0 L706.7,137.8 L708.2,137.8 L709.6,137.7 L711.1,137.6 L712.7,137.5 L714.2,137.4 L715.7,137.4 L717.2,137.3 L718.7,137.3 L720.2,137.3 L721.8,137.2 L723.3,137.2 L724.8,137.2 L726.3,137.2 L727.8,137.2 L729.3,137.2 L730.8,137.2 L732.3,137.2 L733.8,137.2 L735.3,137.2 L736.9,137.2 L738.4,137.2 L739.9,137.2 L741.4,137.2 L742.9,137.2 L744.4,137.3 L745.9,137.3 L747.4,137.3 L748.9,137.3 L750.4,137.3 L751.9,137.4 L753.5,137.4 L755.0,137.4 L756.5,137.5 L758.0,137.5 L759.5,137.6 L761.0,137.6" stroke="#0000ff"/>
<path d="M580.0,145.9 L581.9,145.9 L583.0,145.9 L583.2,145.6 L583.4,144.8 L583.5,143.7 L583.6,142.2 L583.7,140.4 L583.7,138.5 L583.8,136.5 L583.8,134.5 L583.9,132.6 L584.0,130.8 L584.0,129.3 L584.1,127.8 L584.2,126.3 L584.3,124.7 L584.4,123.2 L584.5,121.7 L584.5,120.2 L584.6,118.7 L584.7,117.2 L584.8,115.7 L584.9,114.2 L584.9,112.7 L585.0,111.2 L585.1,109.7 L585.2,108.1 L585.4,106.6 L585.5,105.1 L585.6,103.5 L585.8,101.7 L586.0,99.7 L586.2,97.8 L586.4,95.8 L586.6,94.0 L586.8,92.4 L587.0,91.1 L587.3,90.2 L587.5,89.7 L587.8,90.1 L588.1,91.5 L588.4,93.5 L588.6,95.2 L588.8,96.7 L589.0,98.2 L589.1,99.7 L589.2,101.2 L589.4,102.7 L589.5,104.2 L589.6,105.7 L589.7,107.2 L589.9,108.7 L590.0,110.2 L590.2,111.7 L590.3,113.3 L590.5,114.8 L590.7,116.3 L590.8,117.8 L591.0,119.3 L591.2,120.8 L591.3,122.3 L591.5,123.8 L591.7,125.3 L591.9,126.8 L592.2,128.3 L592.4,129.7 L592.7,131.3 L592.9,132.8 L593.2,134.4 L593.6,135.9 L593.9,137.4 L594.3,138.9 L594.8,140.3 L595.3,141.6 L595.9,142.9 L596.8,144.3 L598.0,145.5 L599.2,145.9 L600.4,145.9 L601.5,145.9 L602.7,145.9 L603.9,145.9 L605.1,145.9 L606.3,145.9 L607.4,145.9 L608.6,145.9 L609.8,145.9 L611.1,145.9 L612.3,145.9 L613.5,145.9 L614.7,145.9 L615.9,145.9 L617.2,145.9 L618.4,145.9 L619.7,145.9 L620.9,145.9 L622.2,145.9 L623.4,145.9 L624.7,145.9 L626.0,145.9 L627.2,145.9 L628.5,145.9 L629.8,145.9 L631.1,145.9 L632.4,145.9 L633.7,145.9 L635.0,145.9 L636.4,145.9 L637.7,145.9 L639.0,145.9 L640.4,145.9 L641.7,145.9 L643.1,145.9 L644.4,145.9 L645.8,145.9 L647.2,145.9 L648.5,145.9 L649.9,145.9 L651.3,145.9 L652.7,145.9 L654.1,145.9 L655.5,145.9 L656.9,145.9 L658.4,145.9 L659.8,145.9 L661.2,145.9 L662.7,145.9 L664.1,145.9 L665.6,145.9 L667.1,145.9 L668.6,145.9 L670.0,145.9 L671.5,145.9 L673.0,145.9 L674.5,145.9 L676.0,145.9 L677.6,145.9 L679.1,145.9 L680.6,145.9 L682.2,145.9 L683.7,145.9 L685.3,145.9 L686.9,145.9 L688.5,145.9 L690.0,145.9 L691.6,145.9 L693.2,145.9 L694.9,145.9 L696.5,145.9 L698.1,145.9 L699.7,145.9 L701.4,145.9 L703.1,145.9 L704.7,145.9 L706.4,145.9 L708.1,145.9 L709.8,145.9 L711.5,145.9 L713.2,145.9 L714.9,145.9 L716.6,145.9 L718.4,145.9 L720.1,145.9 L721.9,145.9 L723.6,145.9 L725.4,145.9 L727.2,145.9 L729.0,145.9 L730.8,145.9 L732.6,145.9 L734.4,145.9 L736.3,145.9 L738.1,145.9 L739.9,145.9 L741.8,145.9 L743.7,145.9 L745.6,145.9 L747.5,145.9 L749.4,145.9 L751.3,145.9 L753.2,145.9 L755.1,145.9 L757.1,145.9 L759.0,145.9 L761.0,145.9" stroke="#ff0000" stroke-dasharray="7.9,1.9,4.1,1.9"/>
</g>
<text x="675.3" y="39.8" font-size="21.8" font-family="'DejaVu Sans','Liberation Sans',sans-serif" text-anchor="middle" stroke="#000" stroke-width="0.3">Area 4 "DVV"</text>
<text x="578.3" y="62.8" font-size="25.5" font-family="'DejaVu Sans','Liberation Sans',sans-serif" text-anchor="end" stroke="#000" stroke-width="0.35" textLength="39.9" lengthAdjust="spacingAndGlyphs">0.2</text>
<text x="576.9" y="152.7" font-size="25.5" font-family="'DejaVu Sans','Liberation Sans',sans-serif" text-anchor="end" stroke="#000" stroke-width="0.35" textLength="16.0" lengthAdjust="spacingAndGlyphs">0</text>
<text x="579.5999999999999" y="172.7" font-size="25.5" font-family="'DejaVu Sans','Liberation Sans',sans-serif" text-anchor="start" stroke="#000" stroke-width="0.35" textLength="15.5" lengthAdjust="spacingAndGlyphs">0</text>
<text x="762.0" y="172.7" font-size="25.5" font-family="'DejaVu Sans','Liberation Sans',sans-serif" text-anchor="end" stroke="#000" stroke-width="0.35" textLength="62.0" lengthAdjust="spacingAndGlyphs">3000</text>
<text transform="translate(621.4,174.3) scale(1.12,1)" font-family="'Liberation Serif','DejaVu Serif',serif" font-size="30.5"><tspan x="0.5" y="0" font-style="italic" stroke="#fff" stroke-width="0.15">t</tspan><tspan x="9.5" y="4.2700000000000005" font-family="'DejaVu Sans Light','DejaVu Sans',sans-serif" font-weight="200" stroke="#000" stroke-width="0.35" font-size="33.6">(</tspan><tspan x="19.0" y="0" font-style="italic" stroke="#fff" stroke-width="0.15">m</tspan><tspan x="41.3" y="0" font-style="italic" stroke="#fff" stroke-width="0.15">s</tspan><tspan x="52.3" y="4.2700000000000005" font-family="'DejaVu Sans Light','DejaVu Sans',sans-serif" font-weight="200" stroke="#000" stroke-width="0.35" font-size="33.6">)</tspan></text>
<text transform="translate(518.8,109.8) scale(1.12,1)" font-family="'Liberation Serif','DejaVu Serif',serif" font-size="30.5"><tspan x="0.0" y="0" font-style="italic" stroke="#fff" stroke-width="0.15">u</tspan><tspan x="13.4" y="6.1000000000000005" font-style="italic" stroke="#fff" stroke-width="0.15" font-size="21.3">i</tspan><tspan x="20.5" y="4.2700000000000005" font-family="'DejaVu Sans Light','DejaVu Sans',sans-serif" font-weight="200" stroke="#000" stroke-width="0.35" font-size="33.6">(</tspan><tspan x="31.2" y="0" font-style="italic" stroke="#fff" stroke-width="0.15">t</tspan><tspan x="40.4" y="4.2700000000000005" font-family="'DejaVu Sans Light','DejaVu Sans',sans-serif" font-weight="200" stroke="#000" stroke-width="0.35" font-size="33.6">)</tspan></text>
<rect x="606.1" y="47.5" width="152.9" height="32" fill="#fff" stroke="#333" stroke-width="0.9"/>
<path d="M609.1,56.1h22.1" stroke="#0000ff" stroke-width="2.4"/>
<path d="M609.1,71.1h22.1" stroke="#ff0000" stroke-width="2.4" stroke-dasharray="6.6,2,3.6,1.8,2.5,1.4,3"/>
<text x="632.9" y="60.9" font-size="13.2" font-weight="bold" font-family="'Liberation Serif','DejaVu Serif',serif" stroke="#000" stroke-width="0.15" textLength="105.3" lengthAdjust="spacingAndGlyphs">With Proprioception</text>
<text x="632.9" y="75.7" font-size="13.2" font-weight="bold" font-family="'Liberation Serif','DejaVu Serif',serif" stroke="#000" stroke-width="0.15" textLength="122.7" lengthAdjust="spacingAndGlyphs">Without Proprioception</text>
<rect x="838.4" y="45.0" width="181.0" height="106.0" fill="#fff" stroke="#858585" stroke-width="1.3"/>
<path d="M898.7,151.0v-2.8M898.7,45.0v2.8M959.1,151.0v-2.8M959.1,45.0v2.8" stroke="#505050" stroke-width="0.8" fill="none"/>
<clipPath id="cc2"><rect x="838.4" y="45.0" width="181.0" height="107.2"/></clipPath>
<g clip-path="url(#cc2)" fill="none" stroke-width="2.6" stroke-linejoin="round">
<path d="M838.5,133.7 L840.4,133.7 L842.0,133.7 L843.0,133.7 L843.6,133.0 L844.0,131.4 L844.3,129.5 L844.5,127.8 L844.7,126.3 L844.9,124.8 L845.0,123.3 L845.1,121.8 L845.2,120.3 L845.3,118.7 L845.4,117.2 L845.5,115.7 L845.6,114.2 L845.7,112.7 L845.9,111.1 L846.0,109.6 L846.2,108.1 L846.5,106.6 L846.7,105.1 L847.0,103.6 L847.2,102.1 L847.5,100.6 L847.9,99.2 L848.2,97.7 L848.5,96.2 L848.9,94.7 L849.3,93.3 L849.7,91.8 L850.1,90.4 L850.5,88.9 L851.0,87.5 L851.5,86.0 L852.1,84.6 L852.7,83.1 L853.3,81.7 L853.9,80.4 L854.6,79.0 L855.4,77.7 L856.1,76.5 L857.0,75.3 L858.1,74.2 L859.1,73.1 L860.2,72.0 L861.3,70.9 L862.3,69.7 L863.3,68.6 L864.2,67.4 L865.3,66.3 L866.3,65.2 L867.5,63.9 L868.6,63.2 L869.6,63.9 L870.6,65.4 L871.6,66.6 L872.8,67.7 L874.0,68.6 L875.3,69.3 L876.6,69.7 L878.1,70.2 L879.6,70.5 L881.1,70.8 L882.7,71.1 L884.2,71.2 L885.7,71.2 L887.2,71.2 L888.7,71.1 L890.2,71.0 L891.7,70.9 L893.2,70.7 L894.8,70.5 L896.3,70.4 L897.8,70.2 L899.3,70.0 L900.8,69.8 L902.3,69.6 L903.8,69.4 L905.3,69.2 L906.8,69.0 L908.4,68.9 L909.9,68.7 L911.4,68.5 L913.0,68.3 L914.5,68.1 L916.0,67.9 L917.5,67.6 L919.0,67.3 L920.4,67.0 L921.8,66.6 L923.2,66.1 L924.5,65.3 L925.7,64.3 L926.8,63.1 L928.0,62.4 L929.4,62.2 L930.9,62.1 L932.5,62.1 L934.1,62.0 L935.6,62.0 L937.1,62.0 L938.6,61.9 L940.1,61.9 L941.7,61.9 L943.2,61.9 L944.7,61.9 L946.2,61.9 L947.7,61.8 L949.2,61.8 L950.8,61.8 L952.3,61.8 L953.8,61.8 L955.3,61.8 L956.8,61.8 L958.3,61.8 L959.9,61.8 L961.4,61.8 L962.9,61.8 L964.4,61.8 L965.9,61.8 L967.4,61.8 L969.0,61.8 L970.5,61.8 L972.0,61.8 L973.5,61.8 L975.0,61.8 L976.5,61.8 L978.1,61.8 L979.6,61.8 L981.1,61.8 L982.6,61.9 L984.1,61.9 L985.6,61.9 L987.2,61.9 L988.7,61.9 L990.2,61.9 L991.7,61.9 L993.2,61.9 L994.7,61.9 L996.3,62.0 L997.8,62.0 L999.3,62.0 L1000.8,62.0 L1002.3,62.0 L1003.8,62.1 L1005.4,62.1 L1006.9,62.1 L1008.4,62.1 L1009.9,62.1 L1011.4,62.2 L1012.9,62.2 L1014.5,62.2 L1016.0,62.2 L1017.5,62.3 L1019.0,62.3" stroke="#0000ff"/>
<path d="M838.5,133.7 L840.4,133.7 L842.0,133.7 L842.7,133.6 L843.0,132.9 L843.3,131.4 L843.6,129.6 L843.8,127.6 L843.9,125.8 L844.1,124.2 L844.2,122.7 L844.4,121.2 L844.5,119.7 L844.7,118.2 L844.8,116.7 L844.9,115.2 L845.0,113.7 L845.1,112.2 L845.2,110.7 L845.3,109.1 L845.4,107.6 L845.5,106.1 L845.6,104.6 L845.7,103.1 L845.9,101.6 L846.0,100.1 L846.1,98.6 L846.3,97.1 L846.4,95.6 L846.6,94.1 L846.7,92.5 L846.8,91.0 L847.0,89.5 L847.2,88.0 L847.3,86.5 L847.5,85.0 L847.7,83.5 L847.9,82.0 L848.0,80.5 L848.3,79.0 L848.5,77.5 L848.7,76.0 L848.9,74.5 L849.2,73.0 L849.5,71.5 L849.8,70.0 L850.2,68.6 L850.7,67.2 L851.2,65.7 L851.8,64.2 L852.7,63.1 L854.1,62.5 L855.6,62.3 L857.1,62.2 L858.6,62.2 L860.1,62.2 L861.6,62.2 L863.2,62.2 L864.7,62.2 L866.2,62.2 L867.7,62.2 L869.2,62.2 L870.7,62.2 L872.2,62.2 L873.7,62.2 L875.3,62.2 L876.8,62.2 L878.3,62.2 L879.8,62.2 L881.3,62.2 L882.8,62.2 L884.3,62.2 L885.8,62.2 L887.4,62.2 L888.9,62.2 L890.4,62.2 L891.9,62.2 L893.4,62.2 L894.9,62.2 L896.4,62.2 L897.9,62.2 L899.5,62.2 L901.0,62.2 L902.5,62.2 L904.0,62.2 L905.5,62.2 L907.0,62.2 L908.5,62.2 L910.1,62.2 L911.6,62.2 L913.1,62.2 L914.6,62.2 L916.1,62.2 L917.6,62.2 L919.1,62.2 L920.6,62.2 L922.2,62.2 L923.7,62.2 L925.2,62.2 L926.7,62.2 L928.2,62.2 L929.7,62.2 L931.2,62.2 L932.7,62.2 L934.3,62.2 L935.8,62.2 L937.3,62.2 L938.8,62.2 L940.3,62.2 L941.8,62.2 L943.3,62.2 L944.9,62.2 L946.4,62.2 L947.9,62.2 L949.4,62.2 L950.9,62.2 L952.4,62.2 L953.9,62.2 L955.4,62.2 L957.0,62.2 L958.5,62.2 L960.0,62.2 L961.5,62.2 L963.0,62.2 L964.5,62.2 L966.0,62.2 L967.5,62.2 L969.1,62.2 L970.6,62.2 L972.1,62.2 L973.6,62.2 L975.1,62.2 L976.6,62.2 L978.1,62.2 L979.7,62.2 L981.2,62.2 L982.7,62.2 L984.2,62.2 L985.7,62.2 L987.2,62.2 L988.7,62.2 L990.2,62.2 L991.8,62.2 L993.3,62.2 L994.8,62.2 L996.3,62.2 L997.8,62.2 L999.3,62.2 L1000.8,62.2 L1002.4,62.2 L1003.9,62.2 L1005.4,62.2 L1006.9,62.2 L1008.4,62.2 L1009.9,62.2 L1011.4,62.2 L1012.9,62.2 L1014.5,62.2 L1016.0,62.2 L1017.5,62.2 L1019.0,62.2" stroke="#ff0000" stroke-dasharray="7.9,1.9,4.1,1.9"/>
</g>
<text x="931.7" y="39.8" font-size="21.8" font-family="'DejaVu Sans','Liberation Sans',sans-serif" text-anchor="middle" stroke="#000" stroke-width="0.3">Area 4 "OPV"</text>
<text x="836.9" y="62.8" font-size="25.5" font-family="'DejaVu Sans','Liberation Sans',sans-serif" text-anchor="end" stroke="#000" stroke-width="0.35" textLength="55.9" lengthAdjust="spacingAndGlyphs">0.75</text>
<text x="836.9" y="151.2" font-size="25.5" font-family="'DejaVu Sans','Liberation Sans',sans-serif" text-anchor="end" stroke="#000" stroke-width="0.35" textLength="55.9" lengthAdjust="spacingAndGlyphs">0.45</text>
<text x="837.6" y="172.7" font-size="25.5" font-family="'DejaVu Sans','Liberation Sans',sans-serif" text-anchor="start" stroke="#000" stroke-width="0.35" textLength="15.5" lengthAdjust="spacingAndGlyphs">0</text>
<text x="1020.8" y="172.7" font-size="25.5" font-family="'DejaVu Sans','Liberation Sans',sans-serif" text-anchor="end" stroke="#000" stroke-width="0.35" textLength="62.0" lengthAdjust="spacingAndGlyphs">3000</text>
<text transform="translate(880.0,174.3) scale(1.12,1)" font-family="'Liberation Serif','DejaVu Serif',serif" font-size="30.5"><tspan x="0.5" y="0" font-style="italic" stroke="#fff" stroke-width="0.15">t</tspan><tspan x="9.5" y="4.2700000000000005" font-family="'DejaVu Sans Light','DejaVu Sans',sans-serif" font-weight="200" stroke="#000" stroke-width="0.35" font-size="33.6">(</tspan><tspan x="19.0" y="0" font-style="italic" stroke="#fff" stroke-width="0.15">m</tspan><tspan x="41.3" y="0" font-style="italic" stroke="#fff" stroke-width="0.15">s</tspan><tspan x="52.3" y="4.2700000000000005" font-family="'DejaVu Sans Light','DejaVu Sans',sans-serif" font-weight="200" stroke="#000" stroke-width="0.35" font-size="33.6">)</tspan></text>
<text transform="translate(782.4,106.3) scale(1.12,1)" font-family="'Liberation Serif','DejaVu Serif',serif" font-size="30.5"><tspan x="0.0" y="0" font-style="italic" stroke="#fff" stroke-width="0.15">y</tspan><tspan x="12.3" y="6.1000000000000005" font-style="italic" stroke="#fff" stroke-width="0.15" font-size="21.3">i</tspan><tspan x="18.7" y="4.2700000000000005" font-family="'DejaVu Sans Light','DejaVu Sans',sans-serif" font-weight="200" stroke="#000" stroke-width="0.35" font-size="33.6">(</tspan><tspan x="28.6" y="0" font-style="italic" stroke="#fff" stroke-width="0.15">t</tspan><tspan x="37.0" y="4.2700000000000005" font-family="'DejaVu Sans Light','DejaVu Sans',sans-serif" font-weight="200" stroke="#000" stroke-width="0.35" font-size="33.6">)</tspan></text>
<rect x="579.8" y="213.8" width="181.4" height="106.2" fill="#fff" stroke="#858585" stroke-width="1.3"/>
<path d="M640.3,320.0v-2.8M640.3,213.8v2.8M700.7,320.0v-2.8M700.7,213.8v2.8" stroke="#505050" stroke-width="0.8" fill="none"/>
<clipPath id="cc3"><rect x="579.8" y="213.8" width="181.4" height="107.4"/></clipPath>
<g clip-path="url(#cc3)" fill="none" stroke-width="2.6" stroke-linejoin="round">
<path d="M580.0,319.3 L581.9,319.3 L582.8,319.3 L583.0,319.0 L583.2,318.2 L583.3,317.2 L583.4,315.8 L583.5,314.2 L583.6,312.4 L583.7,310.5 L583.8,308.5 L583.8,306.5 L583.9,304.6 L583.9,302.7 L584.0,300.9 L584.0,299.4 L584.1,297.9 L584.1,296.4 L584.2,294.9 L584.2,293.4 L584.3,291.9 L584.3,290.3 L584.4,288.8 L584.4,287.3 L584.4,285.8 L584.5,284.3 L584.5,282.8 L584.5,281.3 L584.6,279.8 L584.6,278.3 L584.6,276.8 L584.7,275.3 L584.7,273.7 L584.7,272.2 L584.8,270.7 L584.8,269.2 L584.8,267.7 L584.8,266.2 L584.9,264.7 L584.9,263.2 L584.9,261.7 L585.0,260.2 L585.0,258.6 L585.0,257.1 L585.0,255.6 L585.1,254.1 L585.1,252.6 L585.2,251.1 L585.2,249.6 L585.2,248.1 L585.3,246.6 L585.3,245.1 L585.4,243.5 L585.4,242.0 L585.5,240.5 L585.5,239.0 L585.6,237.3 L585.7,235.4 L585.7,233.4 L585.8,231.4 L585.9,229.4 L586.0,227.5 L586.1,225.6 L586.2,223.9 L586.3,222.4 L586.4,221.1 L586.5,220.0 L586.6,219.3 L586.7,219.0 L586.8,219.1 L586.9,219.8 L587.0,220.8 L587.1,222.2 L587.2,223.9 L587.3,225.8 L587.4,227.7 L587.5,229.7 L587.6,231.7 L587.7,233.5 L587.8,235.1 L587.9,236.6 L588.0,238.2 L588.0,239.7 L588.1,241.2 L588.1,242.7 L588.2,244.2 L588.3,245.7 L588.3,247.2 L588.4,248.7 L588.4,250.2 L588.5,251.7 L588.5,253.2 L588.6,254.8 L588.6,256.3 L588.7,257.8 L588.7,259.3 L588.8,260.8 L588.8,262.3 L588.9,263.8 L589.0,265.3 L589.0,266.8 L589.1,268.3 L589.2,269.8 L589.3,271.4 L589.3,273.2 L589.4,275.1 L589.5,277.1 L589.6,279.1 L589.7,281.1 L589.8,282.9 L589.9,284.6 L590.0,286.1 L590.2,287.3 L590.4,288.1 L590.6,288.5 L591.0,288.3 L592.0,286.8 L592.9,285.4 L593.6,284.1 L594.4,282.8 L595.3,281.6 L596.2,280.5 L597.2,279.3 L598.3,278.2 L599.4,277.2 L600.5,276.1 L601.6,275.1 L602.8,274.2 L604.0,273.3 L605.3,272.4 L606.6,271.7 L608.0,270.9 L609.4,270.5 L610.8,270.9 L612.2,271.6 L613.4,272.4 L614.7,273.3 L616.0,274.0 L617.3,274.8 L618.7,275.5 L620.1,276.1 L621.6,276.6 L623.0,276.9 L624.4,277.1 L625.9,277.2 L627.4,277.3 L628.9,277.4 L630.4,277.5 L632.0,277.5 L633.5,277.6 L635.0,277.6 L636.5,277.6 L638.1,277.6 L639.6,277.5 L641.1,277.4 L642.6,277.3 L644.1,277.1 L645.6,276.9 L647.1,276.7 L648.6,276.5 L650.1,276.4 L651.6,276.2 L653.1,276.0 L654.6,275.9 L656.1,275.9 L657.7,275.8 L659.2,275.7 L660.7,275.6 L662.2,275.5 L663.7,275.4 L665.1,275.2 L666.7,274.6 L668.0,273.6 L668.7,272.6 L669.1,271.5 L669.4,270.1 L669.6,268.5 L669.8,266.9 L670.0,265.3 L670.2,263.6 L670.5,262.1 L670.8,260.5 L671.1,258.6 L671.3,256.6 L671.6,254.7 L671.9,252.9 L672.2,251.4 L672.5,250.2 L672.8,249.6 L673.2,249.6 L673.5,250.5 L673.8,252.0 L674.2,253.9 L674.5,255.8 L674.7,257.6 L674.9,259.2 L675.1,261.0 L675.2,263.0 L675.3,265.0 L675.4,266.9 L675.6,268.6 L675.7,270.0 L675.9,271.0 L676.2,271.5 L677.0,271.5 L678.8,271.5 L680.5,271.5 L682.0,271.5 L683.6,271.5 L685.2,271.5 L686.8,271.5 L688.4,271.5 L689.9,271.5 L691.5,271.5 L693.0,271.5 L694.4,271.5 L695.7,271.5 L697.0,271.5 L698.1,270.7 L699.2,269.3 L700.3,268.2 L701.6,267.2 L702.9,267.1 L704.1,268.1 L705.2,269.3 L706.1,270.8 L707.1,271.5 L708.4,271.5 L709.9,271.5 L711.4,271.5 L713.1,271.5 L714.7,271.5 L716.2,271.5 L717.7,271.1 L719.1,270.5 L720.6,270.1 L722.0,270.1 L723.5,270.5 L724.9,271.1 L726.4,271.5 L727.9,271.5 L729.4,271.5 L730.9,271.5 L732.4,271.5 L733.9,271.5 L735.4,271.5 L736.9,271.1 L738.4,270.8 L739.9,270.9 L741.4,271.2 L742.9,271.4 L744.4,271.4 L745.9,271.4 L747.4,271.4 L748.9,271.4 L750.4,271.4 L751.9,271.4 L753.4,271.4 L754.9,271.4 L756.4,271.4 L758.0,271.3 L759.5,271.3 L761.0,271.3" stroke="#0000ff"/>
<path d="M580.0,319.3 L581.9,319.3 L583.5,319.3 L584.1,319.3 L584.5,318.8 L584.8,317.8 L585.0,316.4 L585.2,314.7 L585.3,312.8 L585.5,310.9 L585.6,308.9 L585.8,307.0 L586.0,305.3 L586.2,303.8 L586.4,302.3 L586.6,300.8 L586.9,299.3 L587.1,297.8 L587.3,296.3 L587.5,294.8 L587.8,293.4 L588.0,291.9 L588.2,290.4 L588.5,288.9 L588.7,287.4 L588.9,285.8 L589.1,284.3 L589.4,282.9 L589.7,281.4 L590.0,279.9 L590.4,278.5 L591.0,277.0 L591.6,275.6 L592.4,274.4 L593.5,273.1 L594.7,272.6 L596.2,272.5 L597.7,272.4 L599.3,272.4 L600.8,272.4 L602.3,272.4 L603.8,272.4 L605.4,272.4 L606.9,272.4 L608.4,272.4 L609.9,272.4 L611.4,272.4 L612.9,272.4 L614.4,272.4 L615.9,272.4 L617.4,272.4 L618.9,272.4 L620.5,272.4 L622.0,272.4 L623.5,272.4 L625.0,272.4 L626.5,272.4 L628.0,272.4 L629.5,272.4 L631.0,272.4 L632.5,272.4 L634.1,272.4 L635.6,272.4 L637.1,272.4 L638.6,272.4 L640.1,272.4 L641.6,272.4 L643.1,272.4 L644.6,272.4 L646.1,272.4 L647.6,272.4 L649.2,272.4 L650.7,272.4 L652.2,272.4 L653.7,272.4 L655.2,272.4 L656.7,272.4 L658.2,272.4 L659.7,272.4 L661.2,272.4 L662.8,272.4 L664.3,272.4 L665.8,272.4 L667.3,272.4 L668.8,272.4 L670.3,272.4 L671.8,272.4 L673.3,272.4 L674.8,272.4 L676.4,272.4 L677.9,272.4 L679.4,272.4 L680.9,272.4 L682.4,272.4 L683.9,272.4 L685.4,272.4 L686.9,272.4 L688.4,272.4 L690.0,272.4 L691.5,272.4 L693.0,272.4 L694.5,272.4 L696.0,272.4 L697.5,272.4 L699.0,272.4 L700.5,272.4 L702.0,272.4 L703.6,272.4 L705.1,272.4 L706.6,272.4 L708.1,272.4 L709.6,272.4 L711.1,272.4 L712.6,272.4 L714.1,272.4 L715.6,272.4 L717.2,272.4 L718.7,272.4 L720.2,272.4 L721.7,272.4 L723.2,272.4 L724.7,272.4 L726.2,272.4 L727.7,272.4 L729.3,272.4 L730.8,272.4 L732.3,272.4 L733.8,272.4 L735.3,272.4 L736.8,272.4 L738.3,272.4 L739.8,272.4 L741.3,272.4 L742.9,272.4 L744.4,272.4 L745.9,272.4 L747.4,272.4 L748.9,272.4 L750.4,272.4 L751.9,272.4 L753.4,272.4 L755.0,272.4 L756.5,272.4 L758.0,272.4 L759.5,272.4 L761.0,272.4" stroke="#ff0000" stroke-dasharray="7.9,1.9,4.1,1.9"/>
</g>
<text x="677.9" y="208.60000000000002" font-size="21.8" font-family="'DejaVu Sans','Liberation Sans',sans-serif" text-anchor="middle" stroke="#000" stroke-width="0.3">Area 4 "OFPV"</text>
<text x="577.4" y="231.60000000000002" font-size="25.5" font-family="'DejaVu Sans','Liberation Sans',sans-serif" text-anchor="end" stroke="#000" stroke-width="0.35" textLength="55.9" lengthAdjust="spacingAndGlyphs">0.95</text>
<text x="578.3" y="319.8" font-size="25.5" font-family="'DejaVu Sans','Liberation Sans',sans-serif" text-anchor="end" stroke="#000" stroke-width="0.35" textLength="39.9" lengthAdjust="spacingAndGlyphs">0.5</text>
<text x="580.8" y="343.1" font-size="25.5" font-family="'DejaVu Sans','Liberation Sans',sans-serif" text-anchor="start" stroke="#000" stroke-width="0.35" textLength="15.5" lengthAdjust="spacingAndGlyphs">0</text>
<text x="763.8000000000001" y="343.1" font-size="25.5" font-family="'DejaVu Sans','Liberation Sans',sans-serif" text-anchor="end" stroke="#000" stroke-width="0.35" textLength="62.0" lengthAdjust="spacingAndGlyphs">3000</text>
<text transform="translate(622.1999999999999,344.6) scale(1.12,1)" font-family="'Liberation Serif','DejaVu Serif',serif" font-size="30.5"><tspan x="0.5" y="0" font-style="italic" stroke="#fff" stroke-width="0.15">t</tspan><tspan x="9.5" y="4.2700000000000005" font-family="'DejaVu Sans Light','DejaVu Sans',sans-serif" font-weight="200" stroke="#000" stroke-width="0.35" font-size="33.6">(</tspan><tspan x="19.0" y="0" font-style="italic" stroke="#fff" stroke-width="0.15">m</tspan><tspan x="41.3" y="0" font-style="italic" stroke="#fff" stroke-width="0.15">s</tspan><tspan x="52.3" y="4.2700000000000005" font-family="'DejaVu Sans Light','DejaVu Sans',sans-serif" font-weight="200" stroke="#000" stroke-width="0.35" font-size="33.6">)</tspan></text>
<text transform="translate(520.3,274.8) scale(1.12,1)" font-family="'Liberation Serif','DejaVu Serif',serif" font-size="30.5"><tspan x="0.0" y="0" font-style="italic" stroke="#fff" stroke-width="0.15">a</tspan><tspan x="12.9" y="6.1000000000000005" font-style="italic" stroke="#fff" stroke-width="0.15" font-size="21.3">i</tspan><tspan x="19.6" y="4.2700000000000005" font-family="'DejaVu Sans Light','DejaVu Sans',sans-serif" font-weight="200" stroke="#000" stroke-width="0.35" font-size="33.6">(</tspan><tspan x="30.8" y="0" font-style="italic" stroke="#fff" stroke-width="0.15">t</tspan><tspan x="38.6" y="4.2700000000000005" font-family="'DejaVu Sans Light','DejaVu Sans',sans-serif" font-weight="200" stroke="#000" stroke-width="0.35" font-size="33.6">)</tspan></text>
<rect x="838.4" y="213.8" width="181.0" height="106.2" fill="#fff" stroke="#858585" stroke-width="1.3"/>
<path d="M898.7,320.0v-2.8M898.7,213.8v2.8M959.1,320.0v-2.8M959.1,213.8v2.8" stroke="#505050" stroke-width="0.8" fill="none"/>
<clipPath id="cc4"><rect x="838.4" y="213.8" width="181.0" height="107.4"/></clipPath>
<g clip-path="url(#cc4)" fill="none" stroke-width="2.6" stroke-linejoin="round">
<path d="M838.5,302.7 L840.0,302.8 L841.5,303.1 L843.1,303.7 L844.5,304.2 L845.5,304.0 L846.4,302.6 L847.0,301.0 L847.5,299.6 L847.9,298.2 L848.3,296.7 L848.6,295.2 L848.9,293.7 L849.2,292.2 L849.5,290.7 L849.8,289.2 L850.2,287.8 L850.6,286.3 L851.0,284.9 L851.4,283.4 L851.8,281.9 L852.2,280.5 L852.7,279.0 L853.1,277.6 L853.5,276.1 L854.0,274.7 L854.4,273.2 L854.8,271.8 L855.3,270.3 L855.7,268.9 L856.1,267.4 L856.6,266.0 L857.0,264.6 L857.4,263.1 L857.8,261.6 L858.3,260.2 L858.7,258.7 L859.1,257.3 L859.5,255.8 L860.0,254.4 L860.4,252.9 L860.8,251.5 L861.3,250.0 L861.7,248.6 L862.2,247.2 L862.7,245.7 L863.1,244.3 L863.6,242.9 L864.1,241.4 L864.6,240.0 L865.1,238.6 L865.6,237.1 L866.1,235.7 L866.7,234.3 L867.2,232.9 L867.8,231.5 L868.4,230.1 L869.1,228.8 L869.8,227.4 L870.5,226.0 L871.3,224.7 L872.1,223.4 L873.0,222.2 L874.0,221.2 L875.1,220.1 L876.3,219.1 L877.6,218.2 L879.0,217.4 L880.3,217.0 L881.7,216.6 L883.2,216.3 L884.8,216.1 L886.3,216.0 L887.8,216.0 L889.3,216.1 L890.8,216.4 L892.3,216.6 L893.8,217.0 L895.3,217.3 L896.7,217.7 L898.2,218.0 L899.7,218.4 L901.1,218.9 L902.5,219.4 L904.0,219.9 L905.4,220.4 L906.8,221.0 L908.2,221.5 L909.6,222.1 L911.0,222.7 L912.4,223.3 L913.8,223.9 L915.1,224.6 L916.5,225.2 L917.8,225.9 L919.2,226.6 L920.5,227.3 L921.9,228.0 L923.2,228.8 L924.5,229.5 L925.8,230.3 L927.1,231.1 L928.4,231.8 L929.7,232.6 L931.0,233.4 L932.3,234.2 L933.6,235.1 L935.0,235.7 L936.3,235.6 L937.7,235.0 L939.1,234.3 L940.6,233.8 L942.0,233.4 L943.5,233.1 L945.0,232.9 L946.5,232.8 L948.0,232.8 L949.5,232.9 L951.0,233.1 L952.5,233.3 L954.0,233.5 L955.5,233.8 L957.0,234.0 L958.5,234.3 L960.0,234.5 L961.6,234.7 L963.1,234.8 L964.6,234.8 L966.1,234.9 L967.6,234.9 L969.1,234.9 L970.6,235.0 L972.1,235.0 L973.6,235.0 L975.1,235.1 L976.7,235.1 L978.2,235.1 L979.7,235.1 L981.2,235.1 L982.7,235.1 L984.2,235.1 L985.7,235.1 L987.2,235.1 L988.8,235.1 L990.3,235.1 L991.8,235.1 L993.3,235.1 L994.8,235.1 L996.3,235.1 L997.8,235.1 L999.3,235.1 L1000.9,235.1 L1002.4,235.1 L1003.9,235.1 L1005.4,235.1 L1006.9,235.1 L1008.4,235.1 L1009.9,235.1 L1011.4,235.1 L1013.0,235.1 L1014.5,235.1 L1016.0,235.1 L1017.5,235.1 L1019.0,235.1" stroke="#0000ff"/>
<path d="M838.5,302.7 L840.3,302.7 L841.6,302.7 L842.2,302.3 L842.6,301.1 L842.9,299.3 L843.2,297.4 L843.4,295.6 L843.6,294.0 L843.8,292.5 L844.0,291.1 L844.2,289.6 L844.4,288.1 L844.5,286.6 L844.7,285.1 L844.8,283.5 L844.9,282.0 L845.1,280.5 L845.2,279.0 L845.3,277.5 L845.4,276.0 L845.6,274.5 L845.7,273.0 L845.8,271.5 L846.0,270.0 L846.2,268.5 L846.3,267.0 L846.5,265.5 L846.6,264.0 L846.8,262.5 L846.9,261.0 L847.1,259.5 L847.3,257.9 L847.4,256.4 L847.6,254.9 L847.8,253.4 L848.0,251.9 L848.2,250.5 L848.4,249.0 L848.6,247.5 L848.8,246.0 L849.0,244.4 L849.2,242.9 L849.5,241.4 L849.8,239.9 L850.1,238.5 L850.4,237.0 L850.8,235.6 L851.4,234.0 L852.1,232.5 L852.9,231.5 L854.2,231.0 L855.8,230.8 L857.3,230.8 L858.8,230.8 L860.3,230.8 L861.8,230.8 L863.3,230.8 L864.8,230.8 L866.2,230.8 L867.7,230.8 L869.2,230.8 L870.7,230.8 L872.2,230.8 L873.7,230.8 L875.2,230.8 L876.7,230.8 L878.1,230.8 L879.6,230.8 L881.1,230.8 L882.6,230.8 L884.1,230.8 L885.6,230.8 L887.1,230.8 L888.6,230.8 L890.1,230.8 L891.6,230.8 L893.1,230.8 L894.5,230.8 L896.0,230.8 L897.5,230.8 L899.0,230.8 L900.5,230.8 L902.0,230.8 L903.5,230.8 L905.0,230.8 L906.5,230.8 L908.0,230.8 L909.5,230.8 L911.0,230.8 L912.5,230.8 L914.0,230.8 L915.5,230.8 L917.0,230.8 L918.5,230.8 L920.0,230.8 L921.5,230.8 L923.0,230.8 L924.5,230.8 L926.0,230.8 L927.5,230.8 L929.0,230.8 L930.5,230.8 L932.0,230.8 L933.5,230.8 L935.0,230.8 L936.5,230.8 L938.1,230.8 L939.6,230.8 L941.1,230.8 L942.6,230.8 L944.1,230.8 L945.6,230.8 L947.1,230.8 L948.6,230.8 L950.1,230.8 L951.7,230.8 L953.2,230.8 L954.7,230.8 L956.2,230.8 L957.7,230.8 L959.2,230.8 L960.7,230.8 L962.3,230.8 L963.8,230.8 L965.3,230.8 L966.8,230.8 L968.3,230.8 L969.9,230.8 L971.4,230.8 L972.9,230.8 L974.4,230.8 L976.0,230.8 L977.5,230.8 L979.0,230.8 L980.5,230.8 L982.1,230.8 L983.6,230.8 L985.1,230.8 L986.7,230.8 L988.2,230.8 L989.7,230.8 L991.3,230.8 L992.8,230.8 L994.3,230.8 L995.9,230.8 L997.4,230.8 L998.9,230.8 L1000.5,230.8 L1002.0,230.8 L1003.6,230.8 L1005.1,230.8 L1006.6,230.8 L1008.2,230.8 L1009.7,230.8 L1011.3,230.8 L1012.8,230.8 L1014.4,230.8 L1015.9,230.8 L1017.5,230.8 L1019.0,230.8" stroke="#ff0000" stroke-dasharray="7.9,1.9,4.1,1.9"/>
</g>
<text x="931" y="208.60000000000002" font-size="21.8" font-family="'DejaVu Sans','Liberation Sans',sans-serif" text-anchor="middle" stroke="#000" stroke-width="0.3">Area 5 "PPV"</text>
<text x="836.9" y="231.8" font-size="25.5" font-family="'DejaVu Sans','Liberation Sans',sans-serif" text-anchor="end" stroke="#000" stroke-width="0.35" textLength="55.9" lengthAdjust="spacingAndGlyphs">0.75</text>
<text x="838.4" y="320.5" font-size="25.5" font-family="'DejaVu Sans','Liberation Sans',sans-serif" text-anchor="end" stroke="#000" stroke-width="0.35" textLength="55.9" lengthAdjust="spacingAndGlyphs">0.45</text>
<text x="837.6" y="342.9" font-size="25.5" font-family="'DejaVu Sans','Liberation Sans',sans-serif" text-anchor="start" stroke="#000" stroke-width="0.35" textLength="15.5" lengthAdjust="spacingAndGlyphs">0</text>
<text x="1021.4" y="342.9" font-size="25.5" font-family="'DejaVu Sans','Liberation Sans',sans-serif" text-anchor="end" stroke="#000" stroke-width="0.35" textLength="62.0" lengthAdjust="spacingAndGlyphs">3000</text>
<text transform="translate(880.0,344.6) scale(1.12,1)" font-family="'Liberation Serif','DejaVu Serif',serif" font-size="30.5"><tspan x="0.5" y="0" font-style="italic" stroke="#fff" stroke-width="0.15">t</tspan><tspan x="9.5" y="4.2700000000000005" font-family="'DejaVu Sans Light','DejaVu Sans',sans-serif" font-weight="200" stroke="#000" stroke-width="0.35" font-size="33.6">(</tspan><tspan x="19.0" y="0" font-style="italic" stroke="#fff" stroke-width="0.15">m</tspan><tspan x="41.3" y="0" font-style="italic" stroke="#fff" stroke-width="0.15">s</tspan><tspan x="52.3" y="4.2700000000000005" font-family="'DejaVu Sans Light','DejaVu Sans',sans-serif" font-weight="200" stroke="#000" stroke-width="0.35" font-size="33.6">)</tspan></text>
<text transform="translate(779.0,273.40000000000003) scale(1.12,1)" font-family="'Liberation Serif','DejaVu Serif',serif" font-size="30.5"><tspan x="0.0" y="0" font-style="italic" stroke="#fff" stroke-width="0.15">x</tspan><tspan x="13.7" y="6.1000000000000005" font-style="italic" stroke="#fff" stroke-width="0.15" font-size="21.3">i</tspan><tspan x="20.4" y="4.2700000000000005" font-family="'DejaVu Sans Light','DejaVu Sans',sans-serif" font-weight="200" stroke="#000" stroke-width="0.35" font-size="33.6">(</tspan><tspan x="31.6" y="0" font-style="italic" stroke="#fff" stroke-width="0.15">t</tspan><tspan x="39.8" y="4.2700000000000005" font-family="'DejaVu Sans Light','DejaVu Sans',sans-serif" font-weight="200" stroke="#000" stroke-width="0.35" font-size="33.6">)</tspan></text>
</svg>
</body></html>
